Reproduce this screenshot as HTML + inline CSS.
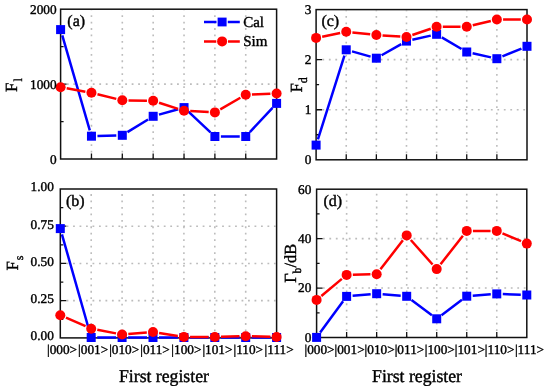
<!DOCTYPE html>
<html><head><meta charset="utf-8"><title>Figure</title>
<style>
html,body{margin:0;padding:0;background:#fff;}
body{width:550px;height:390px;overflow:hidden;}
svg{display:block;filter:blur(0.35px);}
text{font-family:"Liberation Serif", "Times New Roman", serif;text-rendering:geometricPrecision;fill:#000;stroke:#000;stroke-width:0.4px;}
</style></head><body>
<svg width="550" height="390" viewBox="0 0 550 390">
<rect width="550" height="390" fill="#fff"/>
<path d="M91.46 159V10.2M122.31 159V10.2M153.17 159V10.2M184.03 159V10.2M214.89 159V10.2M245.74 159V10.2" stroke="#bcbcbc" stroke-width="1.6" stroke-dasharray="1.8 4.65" stroke-dashoffset="6.35" fill="none"/>
<path d="M60.6 84.1H275.6" stroke="#bcbcbc" stroke-width="1.6" stroke-dasharray="1.8 4.68" stroke-dashoffset="0.2" fill="none"/>
<path d="M91.46 159v-5.5M122.31 159v-5.5M153.17 159v-5.5M184.03 159v-5.5M214.89 159v-5.5M245.74 159v-5.5M60.6 84.1h6M60.6 121.55h3M60.6 46.65h3" stroke="#111" stroke-width="1.3" fill="none"/>
<rect x="60.6" y="9.2" width="216" height="149.8" stroke="#111" stroke-width="1.5" fill="none"/>
<path d="M62.27 35.36L89.79 130.44M97.45 136.03L116.32 135.47M127.42 132.15L148.06 119.45M158.95 114.67L178.25 109.23M188.41 111.7L210.51 132.4M220.89 136.5L239.74 136.5M249.83 132.11L272.51 107.79" stroke="#0000ff" stroke-width="2.5" fill="none"/>
<rect x="56.1" y="25.1" width="9" height="9" fill="#0000ff"/>
<rect x="86.96" y="131.7" width="9" height="9" fill="#0000ff"/>
<rect x="117.81" y="130.8" width="9" height="9" fill="#0000ff"/>
<rect x="148.67" y="111.8" width="9" height="9" fill="#0000ff"/>
<rect x="179.53" y="103.1" width="9" height="9" fill="#0000ff"/>
<rect x="210.39" y="132" width="9" height="9" fill="#0000ff"/>
<rect x="241.24" y="132" width="9" height="9" fill="#0000ff"/>
<rect x="272.1" y="98.9" width="9" height="9" fill="#0000ff"/>
<path d="M66.7 88.31L85.36 91.69M97.48 94.26L116.29 98.84M128.51 100.4L146.97 100.7M159.07 102.71L178.13 108.89M190.22 111.12L208.69 112.08M220.26 109.32L240.36 97.78M251.94 94.46L270.4 93.74" stroke="#ff0000" stroke-width="2.5" fill="none"/>
<circle cx="60.6" cy="87.2" r="5" fill="#ff0000"/>
<circle cx="91.46" cy="92.8" r="5" fill="#ff0000"/>
<circle cx="122.31" cy="100.3" r="5" fill="#ff0000"/>
<circle cx="153.17" cy="100.8" r="5" fill="#ff0000"/>
<circle cx="184.03" cy="110.8" r="5" fill="#ff0000"/>
<circle cx="214.89" cy="112.4" r="5" fill="#ff0000"/>
<circle cx="245.74" cy="94.7" r="5" fill="#ff0000"/>
<circle cx="276.6" cy="93.5" r="5" fill="#ff0000"/>
<text transform="translate(56.6 164.2) scale(1 1)" font-size="13.3" text-anchor="end">0</text>
<text transform="translate(56.6 89.3) scale(1 1)" font-size="13.3" text-anchor="end">1000</text>
<text transform="translate(56.6 14.4) scale(1 1)" font-size="13.3" text-anchor="end">2000</text>
<text transform="translate(67.3 25.6) scale(1 1)" font-size="16">(a)</text>
<text transform="translate(16.7 91.9) rotate(-90) scale(1 1)" font-size="17">F<tspan font-size="12" dx="1" dy="5.6">l</tspan></text>
<path d="M91.2 337.9V190M122.1 337.9V190M153 337.9V190M183.9 337.9V190M214.8 337.9V190M245.7 337.9V190" stroke="#bcbcbc" stroke-width="1.6" stroke-dasharray="1.8 4.65" stroke-dashoffset="6.35" fill="none"/>
<path d="M60.3 300.67H275.6M60.3 263.45H275.6M60.3 226.22H275.6" stroke="#bcbcbc" stroke-width="1.6" stroke-dasharray="1.8 4.68" stroke-dashoffset="0.2" fill="none"/>
<path d="M91.2 337.9v-5.5M122.1 337.9v-5.5M153 337.9v-5.5M183.9 337.9v-5.5M214.8 337.9v-5.5M245.7 337.9v-5.5M60.3 300.67h6M60.3 263.45h6M60.3 226.22h6M60.3 319.29h3M60.3 282.06h3M60.3 244.84h3M60.3 207.61h3" stroke="#111" stroke-width="1.3" fill="none"/>
<rect x="60.3" y="189" width="216.3" height="148.9" stroke="#111" stroke-width="1.5" fill="none"/>
<path d="M61.94 234.37L89.56 331.73M97.2 337.5L116.1 337.5M128.1 337.5L147 337.5M159 337.5L177.9 337.5M189.9 337.5L208.8 337.5M220.8 337.5L239.7 337.5M251.7 337.5L270.6 337.5" stroke="#0000ff" stroke-width="2.5" fill="none"/>
<rect x="55.8" y="224.1" width="9" height="9" fill="#0000ff"/>
<rect x="86.7" y="333" width="9" height="9" fill="#0000ff"/>
<rect x="117.6" y="333" width="9" height="9" fill="#0000ff"/>
<rect x="148.5" y="333" width="9" height="9" fill="#0000ff"/>
<rect x="179.4" y="333" width="9" height="9" fill="#0000ff"/>
<rect x="210.3" y="333" width="9" height="9" fill="#0000ff"/>
<rect x="241.2" y="333" width="9" height="9" fill="#0000ff"/>
<rect x="272.1" y="333" width="9" height="9" fill="#0000ff"/>
<path d="M65.98 317.68L85.52 326.22M97.29 329.84L116.01 333.36M128.28 334L146.82 332.5M159.12 332.97L177.78 335.93M190.1 336.92L208.6 336.98M221 336.84L239.5 336.36M251.9 336.36L270.4 336.84" stroke="#ff0000" stroke-width="2.5" fill="none"/>
<circle cx="60.3" cy="315.2" r="5" fill="#ff0000"/>
<circle cx="91.2" cy="328.7" r="5" fill="#ff0000"/>
<circle cx="122.1" cy="334.5" r="5" fill="#ff0000"/>
<circle cx="153" cy="332" r="5" fill="#ff0000"/>
<circle cx="183.9" cy="336.9" r="5" fill="#ff0000"/>
<circle cx="214.8" cy="337" r="5" fill="#ff0000"/>
<circle cx="245.7" cy="336.2" r="5" fill="#ff0000"/>
<circle cx="276.6" cy="337" r="5" fill="#ff0000"/>
<text transform="translate(53.8 340.2) scale(1 1)" font-size="13.3" text-anchor="end">0.00</text>
<text transform="translate(53.8 302.97) scale(1 1)" font-size="13.3" text-anchor="end">0.25</text>
<text transform="translate(53.8 265.75) scale(1 1)" font-size="13.3" text-anchor="end">0.50</text>
<text transform="translate(53.8 228.53) scale(1 1)" font-size="13.3" text-anchor="end">0.75</text>
<text transform="translate(53.8 191.3) scale(1 1)" font-size="13.3" text-anchor="end">1.00</text>
<text transform="translate(66 206) scale(1 1)" font-size="16">(b)</text>
<text transform="translate(17.6 270.4) rotate(-90) scale(1 1)" font-size="17">F<tspan font-size="12" dx="0.6" dy="5">s</tspan></text>
<path d="M346.23 159.8V10.6M376.36 159.8V10.6M406.49 159.8V10.6M436.61 159.8V10.6M466.74 159.8V10.6M496.87 159.8V10.6" stroke="#bcbcbc" stroke-width="1.6" stroke-dasharray="1.8 4.65" stroke-dashoffset="6.35" fill="none"/>
<path d="M316.1 109.73H526M316.1 59.67H526" stroke="#bcbcbc" stroke-width="1.6" stroke-dasharray="1.8 4.68" stroke-dashoffset="0.2" fill="none"/>
<path d="M346.23 159.8v-5.5M376.36 159.8v-5.5M406.49 159.8v-5.5M436.61 159.8v-5.5M466.74 159.8v-5.5M496.87 159.8v-5.5M316.1 109.73h6M316.1 59.67h6M316.1 134.77h3M316.1 84.7h3M316.1 34.63h3" stroke="#111" stroke-width="1.3" fill="none"/>
<rect x="316.1" y="9.6" width="210.9" height="150.2" stroke="#111" stroke-width="1.5" fill="none"/>
<path d="M317.91 139.38L344.42 55.52M352.01 51.41L370.58 56.59M381.58 55.24L401.27 44.06M412.34 39.78L430.76 35.62M441.79 37.34L461.57 48.96M472.6 53.3L491.01 57.4M502.42 56.42L521.45 48.58" stroke="#0000ff" stroke-width="2.5" fill="none"/>
<rect x="311.6" y="140.6" width="9" height="9" fill="#0000ff"/>
<rect x="341.73" y="45.3" width="9" height="9" fill="#0000ff"/>
<rect x="371.86" y="53.7" width="9" height="9" fill="#0000ff"/>
<rect x="401.99" y="36.6" width="9" height="9" fill="#0000ff"/>
<rect x="432.11" y="29.8" width="9" height="9" fill="#0000ff"/>
<rect x="462.24" y="47.5" width="9" height="9" fill="#0000ff"/>
<rect x="492.37" y="54.2" width="9" height="9" fill="#0000ff"/>
<rect x="522.5" y="41.8" width="9" height="9" fill="#0000ff"/>
<path d="M322.18 36.67L340.15 33.03M352.39 32.45L370.19 34.35M382.54 35.41L400.3 36.59M412.35 34.99L430.75 28.71M442.81 26.7L460.54 26.7M472.77 25.26L490.84 20.94M503.07 19.5L520.8 19.5" stroke="#ff0000" stroke-width="2.5" fill="none"/>
<circle cx="316.1" cy="37.9" r="5" fill="#ff0000"/>
<circle cx="346.23" cy="31.8" r="5" fill="#ff0000"/>
<circle cx="376.36" cy="35" r="5" fill="#ff0000"/>
<circle cx="406.49" cy="37" r="5" fill="#ff0000"/>
<circle cx="436.61" cy="26.7" r="5" fill="#ff0000"/>
<circle cx="466.74" cy="26.7" r="5" fill="#ff0000"/>
<circle cx="496.87" cy="19.5" r="5" fill="#ff0000"/>
<circle cx="527" cy="19.5" r="5" fill="#ff0000"/>
<text transform="translate(311.4 164.2) scale(1 1)" font-size="13.3" text-anchor="end">0</text>
<text transform="translate(311.4 114.13) scale(1 1)" font-size="13.3" text-anchor="end">1</text>
<text transform="translate(311.4 64.07) scale(1 1)" font-size="13.3" text-anchor="end">2</text>
<text transform="translate(311.4 14) scale(1 1)" font-size="13.3" text-anchor="end">3</text>
<text transform="translate(321.4 25.8) scale(1 1)" font-size="16">(c)</text>
<text transform="translate(301.7 92.4) rotate(-90) scale(1 1)" font-size="17">F<tspan font-size="12" dx="-0.2" dy="5">d</tspan></text>
<path d="M346.63 337.5V190.2M376.66 337.5V190.2M406.69 337.5V190.2M436.71 337.5V190.2M466.74 337.5V190.2M496.77 337.5V190.2" stroke="#bcbcbc" stroke-width="1.6" stroke-dasharray="1.8 4.65" stroke-dashoffset="6.35" fill="none"/>
<path d="M316.6 288.07H525.8M316.6 238.63H525.8" stroke="#bcbcbc" stroke-width="1.6" stroke-dasharray="1.8 4.68" stroke-dashoffset="0.2" fill="none"/>
<path d="M346.63 337.5v-5.5M376.66 337.5v-5.5M406.69 337.5v-5.5M436.71 337.5v-5.5M466.74 337.5v-5.5M496.77 337.5v-5.5M316.6 288.07h6M316.6 238.63h6M316.6 312.78h3M316.6 263.35h3M316.6 213.92h3" stroke="#111" stroke-width="1.3" fill="none"/>
<rect x="316.6" y="189.2" width="210.2" height="148.3" stroke="#111" stroke-width="1.5" fill="none"/>
<path d="M320.15 332.56L343.08 301.24M352.6 295.86L370.68 294.24M382.63 294.22L400.71 295.78M411.49 299.9L431.91 315.2M441.51 315.19L461.95 299.81M472.73 295.74L490.79 294.36M502.77 294.12L520.8 294.78" stroke="#0000ff" stroke-width="2.5" fill="none"/>
<rect x="312.1" y="332.9" width="9" height="9" fill="#0000ff"/>
<rect x="342.13" y="291.9" width="9" height="9" fill="#0000ff"/>
<rect x="372.16" y="289.2" width="9" height="9" fill="#0000ff"/>
<rect x="402.19" y="291.8" width="9" height="9" fill="#0000ff"/>
<rect x="432.21" y="314.3" width="9" height="9" fill="#0000ff"/>
<rect x="462.24" y="291.7" width="9" height="9" fill="#0000ff"/>
<rect x="492.27" y="289.4" width="9" height="9" fill="#0000ff"/>
<rect x="522.3" y="290.5" width="9" height="9" fill="#0000ff"/>
<path d="M321.36 295.93L341.86 278.87M352.83 274.76L370.46 274.34M380.45 269.3L402.89 240.3M410.81 240.03L432.59 264.47M440.55 264.23L462.91 235.77M472.94 230.9L490.57 230.9M502.48 233.32L521.09 241.18" stroke="#ff0000" stroke-width="2.5" fill="none"/>
<circle cx="316.6" cy="299.9" r="5" fill="#ff0000"/>
<circle cx="346.63" cy="274.9" r="5" fill="#ff0000"/>
<circle cx="376.66" cy="274.2" r="5" fill="#ff0000"/>
<circle cx="406.69" cy="235.4" r="5" fill="#ff0000"/>
<circle cx="436.71" cy="269.1" r="5" fill="#ff0000"/>
<circle cx="466.74" cy="230.9" r="5" fill="#ff0000"/>
<circle cx="496.77" cy="230.9" r="5" fill="#ff0000"/>
<circle cx="526.8" cy="243.6" r="5" fill="#ff0000"/>
<text transform="translate(311.4 341.9) scale(1 1)" font-size="13.3" text-anchor="end">0</text>
<text transform="translate(311.4 292.47) scale(1 1)" font-size="13.3" text-anchor="end">20</text>
<text transform="translate(311.4 243.03) scale(1 1)" font-size="13.3" text-anchor="end">40</text>
<text transform="translate(311.4 193.6) scale(1 1)" font-size="13.3" text-anchor="end">60</text>
<text transform="translate(323.4 206) scale(1 1)" font-size="16">(d)</text>
<text transform="translate(295.5 282.7) rotate(-90) scale(0.965 1)" font-size="17">&#915;<tspan font-size="12" dx="-0.2" dy="5">b</tspan><tspan dy="-5">/dB</tspan></text>
<path d="M204 22H216.5M227.8 22H239.8" stroke="#0000ff" stroke-width="2.5"/>
<rect x="217.6" y="17.6" width="9" height="8.8" fill="#0000ff"/>
<path d="M204 41.4H216.3M228 41.4H239.8" stroke="#ff0000" stroke-width="2.5"/>
<circle cx="222.1" cy="41.4" r="5" fill="#ff0000"/>
<text transform="translate(243.2 27.3) scale(1 1)" font-size="15">Cal</text>
<text transform="translate(243.2 45.8) scale(1 1)" font-size="15">Sim</text>
<text transform="translate(47 354.4) scale(1 1)" font-size="13.3">|000&gt;</text>
<text transform="translate(304.5 354.4) scale(1 1)" font-size="13.3">|000&gt;</text>
<text transform="translate(78.08 354.4) scale(1 1)" font-size="13.3">|001&gt;</text>
<text transform="translate(334.56 354.4) scale(1 1)" font-size="13.3">|001&gt;</text>
<text transform="translate(109.16 354.4) scale(1 1)" font-size="13.3">|010&gt;</text>
<text transform="translate(364.62 354.4) scale(1 1)" font-size="13.3">|010&gt;</text>
<text transform="translate(140.24 354.4) scale(1 1)" font-size="13.3">|011&gt;</text>
<text transform="translate(394.68 354.4) scale(1 1)" font-size="13.3">|011&gt;</text>
<text transform="translate(171.32 354.4) scale(1 1)" font-size="13.3">|100&gt;</text>
<text transform="translate(424.74 354.4) scale(1 1)" font-size="13.3">|100&gt;</text>
<text transform="translate(202.4 354.4) scale(1 1)" font-size="13.3">|101&gt;</text>
<text transform="translate(454.8 354.4) scale(1 1)" font-size="13.3">|101&gt;</text>
<text transform="translate(233.48 354.4) scale(1 1)" font-size="13.3">|110&gt;</text>
<text transform="translate(484.86 354.4) scale(1 1)" font-size="13.3">|110&gt;</text>
<text transform="translate(264.56 354.4) scale(1 1)" font-size="13.3">|111&gt;</text>
<text transform="translate(514.92 354.4) scale(1 1)" font-size="13.3">|111&gt;</text>
<text transform="translate(119 382.2) scale(1 1.02)" font-size="17.7">First register</text>
<text transform="translate(372.1 382.2) scale(1 1.02)" font-size="17.7">First register</text>
</svg>
</body></html>
